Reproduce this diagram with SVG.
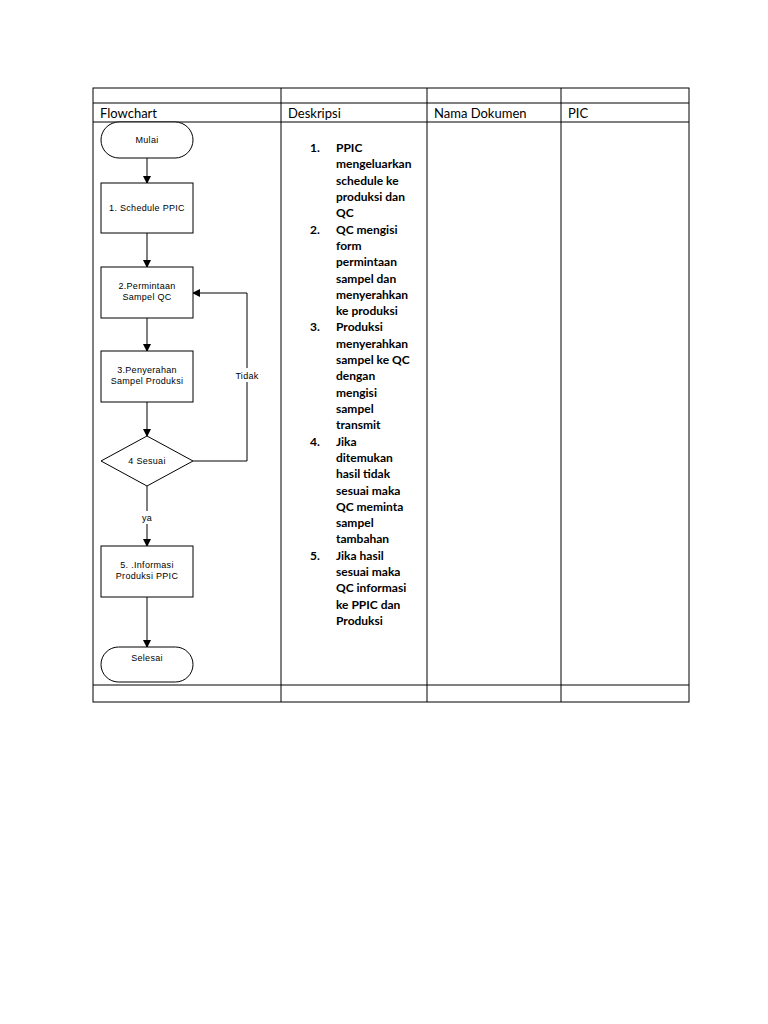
<svg xmlns="http://www.w3.org/2000/svg" width="768" height="1024" viewBox="0 0 768 1024">
<style>
.g{fill:none;stroke:#000;stroke-width:1}
.n{fill:#fff;stroke:#000;stroke-width:1}
.t{font-family:"Liberation Sans",Arial,sans-serif;font-size:9px;letter-spacing:0.3px;text-anchor:middle;fill:#000}
.h{font-family:Lato,"Liberation Sans",sans-serif;font-size:13px;fill:#000}
.d{font-family:Lato,"Liberation Sans",sans-serif;font-size:12px;font-weight:bold;fill:#000}
</style>
<defs><marker id="a" markerWidth="8" markerHeight="8" refX="7" refY="4" orient="auto" markerUnits="userSpaceOnUse"><path d="M0,0 L8,4 L0,8 z" fill="#000"/></marker></defs>
<rect width="768" height="1024" fill="#fff"/>
<g id="table" class="g">
<rect x="93" y="88" width="596" height="614"/>
<line x1="93" y1="103" x2="689" y2="103"/><line x1="93" y1="122" x2="689" y2="122"/><line x1="93" y1="685" x2="689" y2="685"/>
<line x1="281" y1="88" x2="281" y2="702"/><line x1="427" y1="88" x2="427" y2="702"/><line x1="561" y1="88" x2="561" y2="702"/>
</g>
<g id="headers">
<text class="h" x="100" y="118">Flowchart</text><text class="h" x="288" y="118">Deskripsi</text><text class="h" x="434" y="118">Nama Dokumen</text><text class="h" x="568" y="118">PIC</text>
</g>
<g id="connectors" class="g">
<line x1="147" y1="158" x2="147" y2="183" marker-end="url(#a)"/>
<line x1="147" y1="233" x2="147" y2="267" marker-end="url(#a)"/>
<line x1="147" y1="318" x2="147" y2="351" marker-end="url(#a)"/>
<line x1="147" y1="402" x2="147" y2="436" marker-end="url(#a)"/>
<line x1="147" y1="486" x2="147" y2="546" marker-end="url(#a)"/>
<line x1="147" y1="597" x2="147" y2="647" marker-end="url(#a)"/>
<polyline points="193,461 247,461 247,293 193,293" marker-end="url(#a)"/>
<rect x="233" y="368" width="28" height="14" fill="#fff" stroke="none"/>
<rect x="138" y="511" width="18" height="13" fill="#fff" stroke="none"/>
<text class="t" x="247" y="379" stroke="none">Tidak</text>
<text class="t" x="147" y="521" stroke="none">ya</text>
</g>
<g id="mulai"><rect class="n" x="101" y="122" width="92" height="36" rx="18"/><text class="t" x="147" y="143">Mulai</text></g>
<g id="n1"><rect class="n" x="101" y="183" width="92" height="50"/><text class="t" x="147" y="211">1. Schedule  PPIC</text></g>
<g id="n2"><rect class="n" x="101" y="267" width="92" height="51"/><text class="t" x="147" y="289">2.Permintaan</text><text class="t" x="147" y="300">Sampel QC</text></g>
<g id="n3"><rect class="n" x="101" y="351" width="92" height="51"/><text class="t" x="147" y="373">3.Penyerahan</text><text class="t" x="147" y="384">Sampel Produksi</text></g>
<g id="n4"><polygon class="n" points="147,436 193,461 147,486 101,461"/><text class="t" x="147" y="464">4 Sesuai</text></g>
<g id="n5"><rect class="n" x="101" y="546" width="92" height="51"/><text class="t" x="147" y="568">5. .Informasi</text><text class="t" x="147" y="579">Produksi PPIC</text></g>
<g id="selesai"><rect class="n" x="101" y="647" width="92" height="35" rx="17.5"/><text class="t" x="147" y="661">Selesai</text></g>
<g id="desc" class="d">
<text x="310" y="152">1.</text><text x="310" y="234">2.</text><text x="310" y="331">3.</text><text x="310" y="446">4.</text><text x="310" y="560">5.</text>
<text x="336" y="152">PPIC</text><text x="336" y="168">mengeluarkan</text><text x="336" y="185">schedule ke</text><text x="336" y="201">produksi dan</text><text x="336" y="217">QC</text>
<text x="336" y="234">QC mengisi</text><text x="336" y="250">form</text><text x="336" y="266">permintaan</text><text x="336" y="283">sampel dan</text><text x="336" y="299">menyerahkan</text><text x="336" y="315">ke produksi</text>
<text x="336" y="331">Produksi</text><text x="336" y="348">menyerahkan</text><text x="336" y="364">sampel ke QC</text><text x="336" y="380">dengan</text><text x="336" y="397">mengisi</text><text x="336" y="413">sampel</text><text x="336" y="429">transmit</text>
<text x="336" y="446">Jika</text><text x="336" y="462">ditemukan</text><text x="336" y="478">hasil tidak</text><text x="336" y="495">sesuai maka</text><text x="336" y="511">QC meminta</text><text x="336" y="527">sampel</text><text x="336" y="543">tambahan</text>
<text x="336" y="560">Jika hasil</text><text x="336" y="576">sesuai maka</text><text x="336" y="592">QC informasi</text><text x="336" y="609">ke PPIC dan</text><text x="336" y="625">Produksi</text>
</g>
</svg>
